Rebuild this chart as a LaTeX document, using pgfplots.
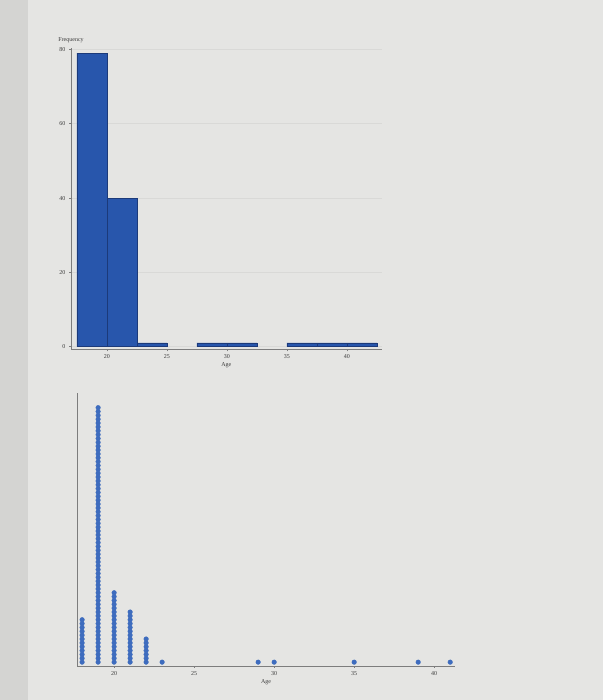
\documentclass[border=0pt]{standalone}
\usepackage{pgfplots}
\pgfplotsset{compat=1.18}
\usepackage{fontspec}
\setmainfont{Liberation Serif}

\definecolor{bgcol}{RGB}{229,229,227}
\definecolor{stripcol}{RGB}{212,212,210}
\definecolor{barfill}{RGB}{40,86,172}
\definecolor{baredge}{RGB}{28,58,122}
\definecolor{dotcol}{RGB}{62,108,190}
\definecolor{axgray}{RGB}{125,125,125}
\definecolor{gridcol}{RGB}{217,217,215}
\definecolor{labgray}{RGB}{60,60,60}

\pgfplotsset{
  photo/.style={
    scale only axis,
    anchor=south west,
    axis lines*=left,
    axis line style={axgray, line width=0.9pt},
    tick style={axgray, line width=0.5pt},
    major tick length=2pt,
    tick align=outside,
    ticklabel style={font=\fontsize{6}{7}\selectfont, text=labgray},
    /pgf/number format/assume math mode=true,
    label style={font=\fontsize{6}{7}\selectfont, text=labgray},
    xlabel={Age},
    xlabel style={yshift=3pt},
    xtick={20,25,30,35,40},
  }
}

\begin{document}
\begin{tikzpicture}
\path[use as bounding box] (0,0) rectangle (603pt,700pt);
\fill[bgcol] (0,0) rectangle (603pt,700pt);
\fill[stripcol] (0,0) rectangle (28pt,700pt);

% histogram
\begin{axis}[photo,
    at={(71pt,350.7pt)}, width=310.7pt, height=301pt,
    xmin=17.0, xmax=42.9, ymin=-0.7, ymax=80.3,
    ytick={0,20,40,60,80},
    ymajorgrids, grid style={gridcol, line width=0.6pt},
    ylabel={Frequency},
    ylabel style={rotate=-90, at={(axis description cs:0,1)}, anchor=south, yshift=2pt},
  ]
  \addplot[ybar interval, fill=barfill, draw=baredge, line width=0.6pt]
    coordinates {(17.5,79) (20,40) (22.5,1) (25,1)};
  \addplot[ybar interval, fill=barfill, draw=baredge, line width=0.6pt]
    coordinates {(27.5,1) (30,1) (32.5,1)};
  \addplot[ybar interval, fill=barfill, draw=baredge, line width=0.6pt]
    coordinates {(35,1) (37.5,1) (40,1) (42.5,1)};
\end{axis}

% dot plot
\begin{axis}[photo,
    at={(77.3pt,34pt)}, width=377.7pt, height=273pt,
    xmin=17.7, xmax=41.3, ymin=0, ymax=70.8,
    ytick=\empty,
  ]
  \addplot[only marks, mark=*, mark size=2.3pt, dotcol] coordinates {
    (18,1)(18,2)(18,3)(18,4)(18,5)(18,6)(18,7)(18,8)(18,9)(18,10)(18,11)(18,12)
    (19,1)(19,2)(19,3)(19,4)(19,5)(19,6)(19,7)(19,8)(19,9)(19,10)
    (19,11)(19,12)(19,13)(19,14)(19,15)(19,16)(19,17)(19,18)(19,19)(19,20)
    (19,21)(19,22)(19,23)(19,24)(19,25)(19,26)(19,27)(19,28)(19,29)(19,30)
    (19,31)(19,32)(19,33)(19,34)(19,35)(19,36)(19,37)(19,38)(19,39)(19,40)
    (19,41)(19,42)(19,43)(19,44)(19,45)(19,46)(19,47)(19,48)(19,49)(19,50)
    (19,51)(19,52)(19,53)(19,54)(19,55)(19,56)(19,57)(19,58)(19,59)(19,60)
    (19,61)(19,62)(19,63)(19,64)(19,65)(19,66)(19,67)
    (20,1)(20,2)(20,3)(20,4)(20,5)(20,6)(20,7)(20,8)(20,9)(20,10)
    (20,11)(20,12)(20,13)(20,14)(20,15)(20,16)(20,17)(20,18)(20,19)
    (21,1)(21,2)(21,3)(21,4)(21,5)(21,6)(21,7)(21,8)(21,9)(21,10)
    (21,11)(21,12)(21,13)(21,14)
    (22,1)(22,2)(22,3)(22,4)(22,5)(22,6)(22,7)
    (23,1) (29,1) (30,1) (35,1) (39,1) (41,1)
  };
\end{axis}
\end{tikzpicture}
\end{document}
